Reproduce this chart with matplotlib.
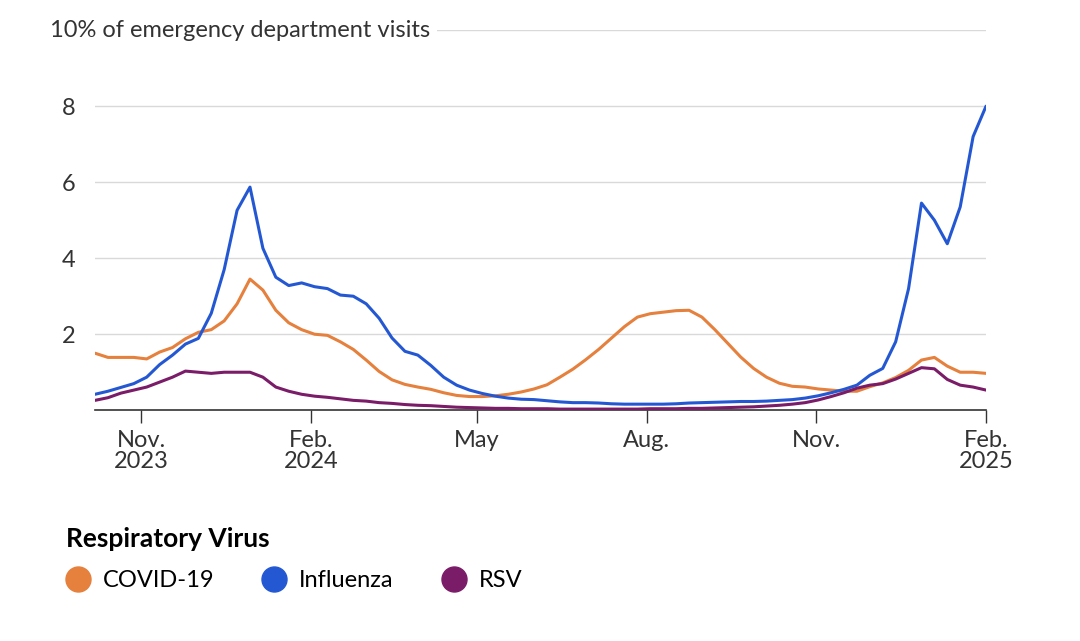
import matplotlib
matplotlib.use("Agg")
import matplotlib.pyplot as plt
from matplotlib.lines import Line2D
import pandas as pd

plt.rcParams["font.family"] = ["Lato", "DejaVu Sans"]

# weekly, Saturdays
weeks = pd.date_range("2023-10-07", "2025-02-01", freq="7D")

covid = [1.5, 1.39, 1.39, 1.39, 1.35, 1.53, 1.65, 1.88, 2.05, 2.12,
         2.35, 2.8, 3.45, 3.16, 2.63, 2.3, 2.12, 2.0, 1.97, 1.8,
         1.6, 1.32, 1.02, 0.8, 0.68, 0.61, 0.55, 0.46, 0.39, 0.36,
         0.36, 0.38, 0.42, 0.48, 0.56, 0.67, 0.87, 1.08, 1.33, 1.6,
         1.9, 2.2, 2.45, 2.54, 2.58, 2.62, 2.63, 2.45, 2.12, 1.76,
         1.4, 1.1, 0.87, 0.71, 0.63, 0.61, 0.56, 0.53, 0.5, 0.5,
         0.62, 0.72, 0.86, 1.05, 1.32, 1.39, 1.16, 1.0, 1.0, 0.97]

influenza = [0.42, 0.5, 0.6, 0.7, 0.87, 1.2, 1.45, 1.74, 1.89, 2.55,
             3.7, 5.26, 5.87, 4.26, 3.5, 3.28, 3.35, 3.25, 3.2, 3.03,
             3.0, 2.8, 2.42, 1.9, 1.55, 1.45, 1.18, 0.87, 0.66, 0.53,
             0.44, 0.37, 0.32, 0.29, 0.28, 0.25, 0.22, 0.2, 0.2, 0.19,
             0.17, 0.16, 0.16, 0.16, 0.16, 0.17, 0.19, 0.2, 0.21, 0.22,
             0.23, 0.23, 0.24, 0.26, 0.28, 0.32, 0.38, 0.46, 0.55, 0.66,
             0.92, 1.1, 1.8, 3.2, 5.45, 5.0, 4.38, 5.35, 7.2, 8.0]

rsv = [0.26, 0.33, 0.45, 0.53, 0.61, 0.74, 0.87, 1.03, 1.0, 0.97,
       1.0, 1.0, 1.0, 0.87, 0.61, 0.5, 0.42, 0.37, 0.34, 0.3,
       0.26, 0.24, 0.2, 0.18, 0.15, 0.13, 0.12, 0.1, 0.08, 0.07,
       0.06, 0.05, 0.05, 0.04, 0.04, 0.04, 0.03, 0.03, 0.03, 0.03,
       0.03, 0.03, 0.03, 0.04, 0.04, 0.04, 0.05, 0.05, 0.06, 0.07,
       0.08, 0.09, 0.11, 0.13, 0.16, 0.2, 0.27, 0.36, 0.46, 0.58,
       0.66, 0.7, 0.82, 0.97, 1.12, 1.09, 0.81, 0.66, 0.61, 0.53]

series_names = ["COVID-19", "Influenza", "RSV"]
colors = ["#E5803D", "#2458D3", "#7A1C68"]

tick_dates = pd.to_datetime(["2023-11-01", "2024-02-01", "2024-05-01",
                             "2024-08-01", "2024-11-01", "2025-02-01"])
tick_labels = ["Nov.\n2023", "Feb.\n2024", "May", "Aug.", "Nov.", "Feb.\n2025"]
y_ticks = [2, 4, 6, 8]

fig = plt.figure(figsize=(10.8, 6.41), dpi=100)
ax = fig.add_axes([0.088, 0.360, 0.825, 0.593])

for vals, name, c in zip([covid, influenza, rsv], series_names, colors):
    ax.plot(weeks, vals, color=c, lw=2.2, label=name, solid_capstyle="round",
            solid_joinstyle="round", zorder=3)

ax.set_xlim(weeks[0], weeks[-1])
ax.set_ylim(0, 10)

# gridlines
for v in y_ticks + [10]:
    ax.axhline(v, color="#d9d9d9", lw=1.0, zorder=1)
ax.set_yticks(y_ticks)
ax.set_yticklabels([str(v) for v in y_ticks])
ax.tick_params(axis="y", length=0, pad=14, labelsize=17, labelcolor="#333333")
ax.text(-0.051, 10, "10% of emergency department visits", transform=ax.get_yaxis_transform(),
        ha="left", va="center", fontsize=17, color="#333333", zorder=5,
        bbox=dict(facecolor="white", edgecolor="none", pad=5))

ax.set_xticks(tick_dates)
ax.set_xticklabels(tick_labels, fontsize=17, color="#333333", linespacing=1.0)
ax.tick_params(axis="x", length=9, width=1, color="#333333", pad=5)

for s in ["top", "right", "left"]:
    ax.spines[s].set_visible(False)
ax.spines["bottom"].set_color("#333333")
ax.spines["bottom"].set_linewidth(1.2)

handles = [Line2D([], [], marker="o", ls="none", markersize=18, color=c,
                  markeredgecolor=c) for c in colors]
leg = fig.legend(handles, series_names, loc="upper left", bbox_to_anchor=(0.061, 0.178),
                 ncol=3, frameon=False, title="Respiratory Virus",
                 fontsize=17, handletextpad=0.55, columnspacing=2.05,
                 handlelength=1.0, borderpad=0, borderaxespad=0)
leg.get_title().set_fontweight("bold")
leg.get_title().set_fontsize(19)
leg._legend_box.align = "left"
leg._legend_box.sep = 14

fig.savefig("out.png", dpi=100)
